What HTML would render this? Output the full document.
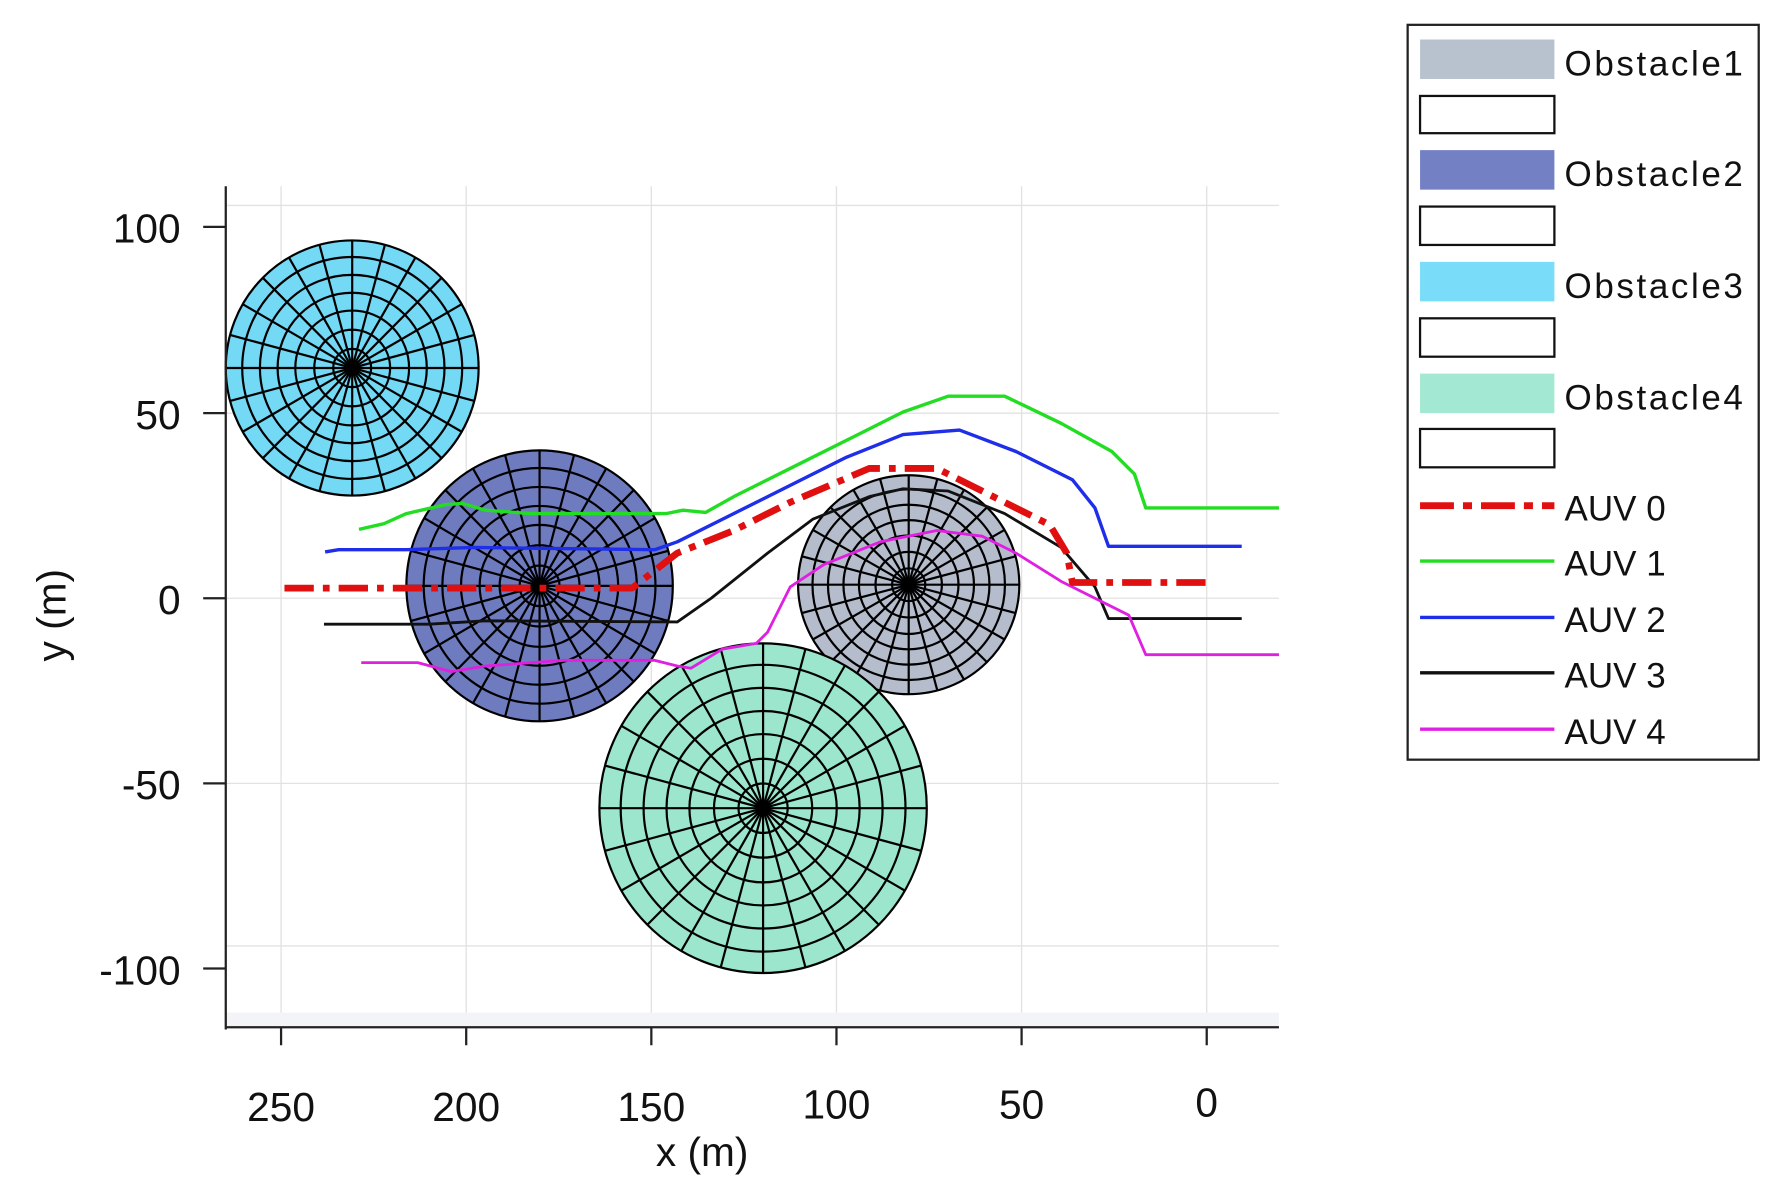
<!DOCTYPE html>
<html><head><meta charset="utf-8"><style>
html,body{margin:0;padding:0;background:#fff;}
svg{display:block;}
text{font-family:"Liberation Sans",sans-serif;fill:#111;}
</style></head><body>
<svg width="1770" height="1192" viewBox="0 0 1568 1056" preserveAspectRatio="none" xmlns="http://www.w3.org/2000/svg">
<defs>
<g id="mesh" fill="none" stroke="#000" stroke-width="2.2">
<line x1="-1" y1="0" x2="1" y2="0" vector-effect="non-scaling-stroke"/>
<line x1="-1" y1="0" x2="1" y2="0" transform="rotate(15)" vector-effect="non-scaling-stroke"/>
<line x1="-1" y1="0" x2="1" y2="0" transform="rotate(30)" vector-effect="non-scaling-stroke"/>
<line x1="-1" y1="0" x2="1" y2="0" transform="rotate(45)" vector-effect="non-scaling-stroke"/>
<line x1="-1" y1="0" x2="1" y2="0" transform="rotate(60)" vector-effect="non-scaling-stroke"/>
<line x1="-1" y1="0" x2="1" y2="0" transform="rotate(75)" vector-effect="non-scaling-stroke"/>
<line x1="-1" y1="0" x2="1" y2="0" transform="rotate(90)" vector-effect="non-scaling-stroke"/>
<line x1="-1" y1="0" x2="1" y2="0" transform="rotate(105)" vector-effect="non-scaling-stroke"/>
<line x1="-1" y1="0" x2="1" y2="0" transform="rotate(120)" vector-effect="non-scaling-stroke"/>
<line x1="-1" y1="0" x2="1" y2="0" transform="rotate(135)" vector-effect="non-scaling-stroke"/>
<line x1="-1" y1="0" x2="1" y2="0" transform="rotate(150)" vector-effect="non-scaling-stroke"/>
<line x1="-1" y1="0" x2="1" y2="0" transform="rotate(165)" vector-effect="non-scaling-stroke"/>
<circle r="0.15" vector-effect="non-scaling-stroke"/>
<circle r="0.3" vector-effect="non-scaling-stroke"/>
<circle r="0.45" vector-effect="non-scaling-stroke"/>
<circle r="0.59" vector-effect="non-scaling-stroke"/>
<circle r="0.73" vector-effect="non-scaling-stroke"/>
<circle r="0.87" vector-effect="non-scaling-stroke"/>
<circle r="1" vector-effect="non-scaling-stroke"/>
</g>
</defs>

<g stroke="#e2e2e2" stroke-width="1.2">
<line x1="249" y1="165" x2="249" y2="910"/>
<line x1="413" y1="165" x2="413" y2="910"/>
<line x1="577" y1="165" x2="577" y2="910"/>
<line x1="741" y1="165" x2="741" y2="910"/>
<line x1="905" y1="165" x2="905" y2="910"/>
<line x1="1069" y1="165" x2="1069" y2="910"/>
<line x1="200" y1="182" x2="1133" y2="182"/>
<line x1="200" y1="366" x2="1133" y2="366"/>
<line x1="200" y1="530" x2="1133" y2="530"/>
<line x1="200" y1="694" x2="1133" y2="694"/>
<line x1="200" y1="838" x2="1133" y2="838"/>
</g>
<rect x="200" y="897" width="933" height="12" fill="#f3f4f8"/>

<g transform="translate(312,326) scale(112,113)"><circle r="1" fill="#74d9f5"/><use href="#mesh"/></g>
<g transform="translate(478,519) scale(118,120)"><circle r="1" fill="#6f7bbf"/><use href="#mesh"/></g>
<g transform="translate(805,518) scale(98,97)"><circle r="1" fill="#b5bccb"/><use href="#mesh"/></g>
<g transform="translate(676,716) scale(145,146)"><circle r="1" fill="#9be6cc"/><use href="#mesh"/></g>

<g fill="none" stroke-linejoin="round">
<polyline stroke="#22dd22" stroke-width="3" points="318,469 340,464 360,455 395,447 410,446 430,452 470,455 590,455 605,452 625,454 650,440 700,415 760,385 800,365 840,351 890,351 940,375 985,400 1005,420 1015,450 1133,450"/>
<polyline stroke="#1f2ee8" stroke-width="3" points="288,489 300,487 360,487 420,485 580,487 600,480 640,460 700,430 750,405 800,385 850,381 900,400 950,425 970,450 982,484 1100,484"/>
<polyline stroke="#111" stroke-width="2.5" points="287,553 380,553 430,550 600,551 630,530 680,490 720,460 770,440 800,433 840,435 890,455 940,485 970,520 982,548 1100,548"/>
<polyline stroke="#e020e0" stroke-width="2.5" points="320,587 370,587 400,595 430,590 500,585 580,585 600,590 612,592 640,575 670,570 680,560 700,520 730,500 780,480 830,470 870,475 900,490 940,515 970,530 1000,545 1015,580 1133,580"/>
<polyline stroke="#e01010" stroke-width="6" stroke-dasharray="26,8,6,8" points="252,521 360,521 560,521 600,490 650,470 700,445 770,415 830,415 860,430 930,465 945,490 950,516 1068,516"/>
</g>

<g stroke="#222" stroke-width="2">
<line x1="200" y1="165" x2="200" y2="912"/>
<line x1="200" y1="910" x2="1133" y2="910"/>
<line x1="249" y1="910" x2="249" y2="926"/>
<line x1="413" y1="910" x2="413" y2="926"/>
<line x1="577" y1="910" x2="577" y2="926"/>
<line x1="741" y1="910" x2="741" y2="926"/>
<line x1="905" y1="910" x2="905" y2="926"/>
<line x1="1069" y1="910" x2="1069" y2="926"/>
<line x1="180" y1="201" x2="200" y2="201"/>
<line x1="180" y1="366" x2="200" y2="366"/>
<line x1="180" y1="530" x2="200" y2="530"/>
<line x1="180" y1="694" x2="200" y2="694"/>
<line x1="180" y1="858" x2="200" y2="858"/>
</g>
<g font-size="36" text-anchor="end">
<text x="160" y="215">100</text>
<text x="160" y="380">50</text>
<text x="160" y="544">0</text>
<text x="160" y="708">-50</text>
<text x="160" y="872">-100</text>
</g>
<g font-size="36" text-anchor="middle">
<text x="249" y="993">250</text>
<text x="413" y="993">200</text>
<text x="577" y="993">150</text>
<text x="741" y="991">100</text>
<text x="905" y="991">50</text>
<text x="1069" y="989">0</text>
<text x="622" y="1033">x (m)</text>
<text transform="translate(58,545) rotate(-90)">y (m)</text>
</g>

<rect x="1247" y="22" width="311" height="651" fill="#fff" stroke="#222" stroke-width="2"/>
<rect x="1258" y="35" width="119" height="35" fill="#b8c2cf"/>
<rect x="1258" y="85" width="119" height="33" fill="#fff" stroke="#111" stroke-width="2"/>
<rect x="1258" y="133" width="119" height="35" fill="#7480c4"/>
<rect x="1258" y="183" width="119" height="34" fill="#fff" stroke="#111" stroke-width="2"/>
<rect x="1258" y="232" width="119" height="35" fill="#79dcf8"/>
<rect x="1258" y="282" width="119" height="34" fill="#fff" stroke="#111" stroke-width="2"/>
<rect x="1258" y="331" width="119" height="35" fill="#a3e8d2"/>
<rect x="1258" y="380" width="119" height="34" fill="#fff" stroke="#111" stroke-width="2"/>
<g fill="none">
<line x1="1258" y1="448" x2="1377" y2="448" stroke="#e01010" stroke-width="6" stroke-dasharray="30,8,8,8"/>
<line x1="1258" y1="497" x2="1377" y2="497" stroke="#22dd22" stroke-width="3"/>
<line x1="1258" y1="547" x2="1377" y2="547" stroke="#1f2ee8" stroke-width="3"/>
<line x1="1258" y1="596" x2="1377" y2="596" stroke="#111" stroke-width="3"/>
<line x1="1258" y1="646" x2="1377" y2="646" stroke="#e020e0" stroke-width="3"/>
</g>
<g font-size="31">
<text x="1386" y="67" textLength="158">Obstacle1</text>
<text x="1386" y="165" textLength="158">Obstacle2</text>
<text x="1386" y="264" textLength="158">Obstacle3</text>
<text x="1386" y="363" textLength="158">Obstacle4</text>
<text x="1386" y="461">AUV 0</text>
<text x="1386" y="510">AUV 1</text>
<text x="1386" y="560">AUV 2</text>
<text x="1386" y="609">AUV 3</text>
<text x="1386" y="659">AUV 4</text>
</g>
</svg>
</body></html>
